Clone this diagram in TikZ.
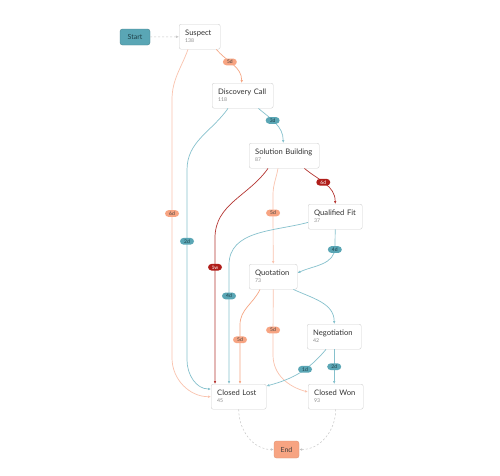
\documentclass[tikz,border=0pt]{standalone}
\usepackage{fontspec}
\setmainfont{Lato}
\usetikzlibrary{arrows.meta}
\definecolor{tealfill}{HTML}{5AA6B5}
\definecolor{tealline}{HTML}{86C1CD}
\definecolor{tealtext}{HTML}{1E3F47}
\definecolor{salmfill}{HTML}{F7A482}
\definecolor{salmline}{HTML}{F6A684}
\definecolor{salmpale}{HTML}{FAC3AE}
\definecolor{redfill}{HTML}{B01E1A}
\definecolor{redline}{HTML}{B53632}
\tikzset{stage/.style={draw=black!18,fill=white,rounded corners=2pt,anchor=north west,
   align=left,inner xsep=6pt,inner ysep=3pt,text width=#1,minimum height=25,
   font=\fontsize{7.6}{8.5}\selectfont,text=black!80},
 term/.style={rounded corners=2.5pt,minimum height=16,inner xsep=4pt,
   font=\fontsize{7}{8}\selectfont},
 lab/.style={rounded corners=3.5pt,inner xsep=2.5pt,inner ysep=1.5pt,minimum width=14,
   font=\fontsize{5}{6}\selectfont},
 labt/.style={lab,fill=tealfill,text=tealtext},
 labs/.style={lab,fill=salmfill,text=black!75},
 labr/.style={lab,fill=redfill,text=white},
 flow/.style={-{Latex[length=3pt,width=2.6pt]},line width=0.7pt},
 flowt/.style={flow,tealline},
 flows/.style={flow,salmline},
 flowp/.style={flow,salmpale},
 flowr/.style={flow,redline},
 ends/.style={flow,dashed,black!22,line width=0.5pt,dash pattern=on 2pt off 2pt}}
\newcommand{\stg}[2]{#1\\[-1.5pt]{\color{black!45}\fontsize{5.2}{6}\selectfont #2}}

\begin{document}
\begin{tikzpicture}[x=1pt,y=1pt]
\useasboundingbox[fill=white] (0,0) rectangle (500,-475);
\node[term,fill=tealfill,draw=tealfill!80!black,text=tealtext,minimum width=30] (start) at (135,-37) {Start};
\node[term,fill=salmfill,draw=salmfill!90!black,text=black!75,minimum width=25,minimum height=17] (end) at (286.5,-449.5) {End};
\node[stage=29] (susp) at (179,-24) {\stg{Suspect}{138}};
\node[stage=49] (disc) at (212,-83) {\stg{Discovery Call}{118}};
\node[stage=58] (sol) at (249,-143) {\stg{Solution Building}{87}};
\node[stage=42] (qual) at (308,-204) {\stg{Qualified Fit}{37}};
\node[stage=36] (quot) at (249,-264) {\stg{Quotation}{73}};
\node[stage=42] (nego) at (307,-324) {\stg{Negotiation}{42}};
\node[stage=43] (lost) at (211,-384) {\stg{Closed Lost}{45}};
\node[stage=43] (won) at (308,-384) {\stg{Closed Won}{93}};
% in and out
\draw[ends] (start) -- (susp);
\draw[ends] (lost.south) to[out=-90,in=180] (end.west);
\draw[ends] (won.south) to[out=-90,in=0] (end.east);
% transitions
\draw[flowp] ([xshift=9]susp.south west) to[out=-110,in=90] (172,-100)
  -- node[labs,pos=0.44]{6d} (172,-358) to[out=-90,in=180] (lost.west);
\draw[flows] ([xshift=-4]susp.south east) to[out=-50,in=90] node[labs,pos=0.4]{5d} ([xshift=-1]disc.north);
\draw[flowt] ([xshift=16]disc.south west) to[out=-125,in=90] (187,-170)
  -- node[labt,pos=0.375]{2d} (187,-360) to[out=-90,in=180] ([yshift=-5]lost.north west);
\draw[flowt] ([xshift=-15]disc.south east) to[out=-40,in=90] node[labt,pos=0.4]{3d} ([xshift=-1]sol.north);
\draw[flowr] ([xshift=19]sol.south west) to[out=-125,in=90] (215,-238)
  -- node[labr,pos=0.2]{1w} ([xshift=4]lost.north west);
\draw[flowp] ([xshift=29]sol.south west) to[out=-100,in=90] (273,-195)
  -- node[labs,pos=0.26]{5d} (quot.north);
\draw[flowr] ([xshift=-15]sol.south east) to[out=-40,in=90] node[labr,pos=0.45]{6d} (qual.north);
\draw[flowt] ([yshift=7]qual.south west) to[out=195,in=90] (229,-265)
  -- node[labt,pos=0.26]{4d} ([xshift=18]lost.north west);
\draw[flowt] (qual.south) -- (335,-247) to[out=-90,in=25] node[labt,pos=0.05]{4d} ([yshift=-9]quot.north east);
\draw[flowt] ([xshift=-4]quot.south east) to[out=-25,in=90] (nego.north);
\draw[flows] ([xshift=11]quot.south west) to[out=-115,in=90] (240,-325)
  -- node[labs,pos=0.25]{5d} ([xshift=29]lost.north west);
\draw[flowp] (quot.south) -- node[labs,pos=0.62]{5d} (273,-355) to[out=-90,in=165] ([yshift=-8]won.north west);
\draw[flowt] ([xshift=19]nego.south west) to[out=-130,in=15] node[labt,pos=0.4]{1d} ([yshift=-2]lost.north east);
\draw[flowt] (nego.south) -- node[labt]{2d} (nego.south |- won.north);
\end{tikzpicture}
\end{document}
